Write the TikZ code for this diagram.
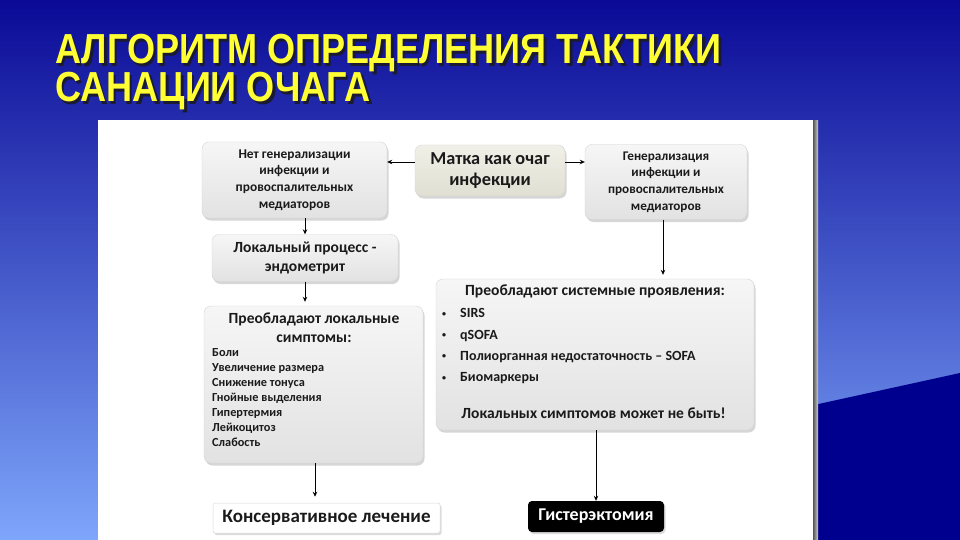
\documentclass[tikz,border=0pt]{standalone}
\usepackage{fontspec}
\setmainfont{Carlito}
\newfontfamily\titlefont[FakeStretch=0.86]{Liberation Sans}
\usetikzlibrary{arrows.meta,shadows}
\definecolor{bgtop}{HTML}{0A0A96}
\definecolor{bgmid}{HTML}{4A60C4}
\definecolor{bgbot}{HTML}{7EA6FB}
\definecolor{navyshape}{HTML}{00008E}
\definecolor{titleyellow}{HTML}{FFFF33}
\definecolor{titleshade}{HTML}{1A1A33}
\definecolor{boxtop}{HTML}{F6F6F6}
\definecolor{boxbot}{HTML}{E2E2E2}
\definecolor{boxedge}{HTML}{D4D4D4}
\definecolor{beigetop}{HTML}{F0F0E8}
\definecolor{beigebot}{HTML}{DFDFD2}
\definecolor{txtcol}{HTML}{1A1A1A}
\newcommand\shadowed[1]{\makebox[0pt][l]{\hspace{2.5pt}\raisebox{-2.5pt}{\textcolor{titleshade}{#1}}}#1}
\newcommand\blt{\makebox[18pt][l]{\raisebox{1.5pt}{\fontsize{8}{8}\selectfont •}}}
\tikzset{
  gbox/.style={rounded corners=7pt, top color=boxtop, bottom color=boxbot,
    draw=boxedge, line width=0.4pt, inner sep=0pt, align=center, text=txtcol,
    drop shadow={shadow xshift=1.5pt, shadow yshift=-2.5pt, opacity=0.35, fill=black!45}},
  bbox/.style={gbox, top color=beigetop, bottom color=beigebot},
  wbox/.style={rounded corners=2pt, fill=white, draw=black!15, line width=0.5pt, inner sep=0pt,
    text=txtcol, drop shadow={shadow xshift=1.5pt, shadow yshift=-2pt, opacity=0.3, fill=black!45}},
  kbox/.style={rounded corners=4pt, fill=black, inner sep=0pt, text=white,
    drop shadow={shadow xshift=1.5pt, shadow yshift=-2pt, opacity=0.3, fill=black!45}},
  arr/.style={draw=black, line width=0.8pt, -{Stealth[length=5pt,width=4.5pt]}},
  ttl/.style={anchor=base west, inner sep=0pt, text=titleyellow, text height=31pt, text depth=0pt,
    font=\titlefont\bfseries\fontsize{42}{42}\selectfont},
  tx/.style={inner sep=0pt, text=txtcol},
}
\begin{document}
\begin{tikzpicture}[x=1pt,y=-1pt]
\useasboundingbox (0,0) rectangle (960,540);
% background
\shade[top color=bgtop, middle color=bgmid, bottom color=bgbot] (0,0) rectangle (960,540);
\fill[navyshape] (814,405) -- (960,373) -- (960,540) -- (814,540) -- cycle;
% panel
\shade[left color=black!75, right color=black!20] (812,121) rectangle (818,540);
\fill[white] (98,120.5) rectangle (813,540);
% title
\node[ttl] (t1) at (55,64) {\shadowed{АЛГОРИТМ ОПРЕДЕЛЕНИЯ ТАКТИКИ}};
\node[ttl] (t2) at (55,102) {\shadowed{САНАЦИИ ОЧАГА}};
% boxes
\node[gbox, minimum width=185pt, minimum height=76pt,
  font=\bfseries\fontsize{13.4}{16.7}\selectfont] (b1) at (294.5,180)
  {Нет генерализации\\инфекции и\\провоспалительных\\медиаторов};
\node[bbox, minimum width=150pt, minimum height=51pt,
  font=\bfseries\fontsize{18.3}{21}\selectfont] (b2) at (490,170.5)
  {Матка как очаг\\инфекции};
\node[gbox, minimum width=162pt, minimum height=75pt,
  font=\bfseries\fontsize{13.2}{16.7}\selectfont] (b3) at (666,182)
  {Генерализация\\инфекции и\\провоспалительных\\медиаторов};
\node[gbox, minimum width=186pt, minimum height=47pt,
  font=\bfseries\fontsize{15.5}{19}\selectfont] (b4) at (305,258)
  {Локальный процесс -\\эндометрит};
\node[gbox, minimum width=219pt, minimum height=157pt] (b5) at (313.5,384.5) {};
\node[gbox, minimum width=318pt, minimum height=151pt] (b6) at (595,354.5) {};
\node[wbox, minimum width=227pt, minimum height=30pt,
  font=\bfseries\fontsize{19}{22}\selectfont] (b7) at (326.5,518) {Консервативное лечение};
\node[kbox, minimum width=136pt, minimum height=31pt,
  font=\bfseries\fontsize{18}{22}\selectfont] (b8) at (596,516.5) {Гистерэктомия};
% box 5 content
\node[tx, align=center, font=\bfseries\fontsize{15.5}{19}\selectfont] (h5) at (314,328)
  {Преобладают локальные\\симптомы:};
\node[tx, align=left, anchor=north west, font=\bfseries\fontsize{12.3}{14.95}\selectfont] (l5) at (212,348.5)
  {Боли\\Увеличение размера\\Снижение тонуса\\Гнойные выделения\\Гипертермия\\Лейкоцитоз\\Слабость};
% box 6 content
\node[tx, font=\bfseries\fontsize{15.6}{19}\selectfont] (h6) at (595,291.5)
  {Преобладают системные проявления:};
\node[tx, align=left, anchor=north west, font=\bfseries\fontsize{14}{21.3}\selectfont] (l6) at (442,308.5)
  {\blt SIRS\\\blt qSOFA\\\blt Полиорганная недостаточность – SOFA\\\blt Биомаркеры};
\node[tx, font=\bfseries\fontsize{15.5}{19}\selectfont] (n6) at (593.5,413.5)
  {Локальных симптомов может не быть!};
% connectors
\draw[arr] ([yshift=8.5pt]b2.west) -- ([yshift=8.5pt]b2.west -| b1.east);
\draw[arr] ([yshift=8.5pt]b2.east) -- ([yshift=8.5pt]b2.east -| b3.west);
\draw[arr] (b1.south -| b4.north) -- (b4.north);
\draw[arr, shorten >=4pt] (b4.south) -- (b4.south |- b5.north);
\draw[arr, shorten >=4pt] ([xshift=-3pt]b3.south) -- ([xshift=-3pt]b3.south |- b6.north);
\draw[arr, shorten >=6pt] (b5.south -| 315,0) -- (b7.north -| 315,0);
\draw[arr] (b6.south -| b8.north) -- (b8.north);
\end{tikzpicture}
\end{document}
